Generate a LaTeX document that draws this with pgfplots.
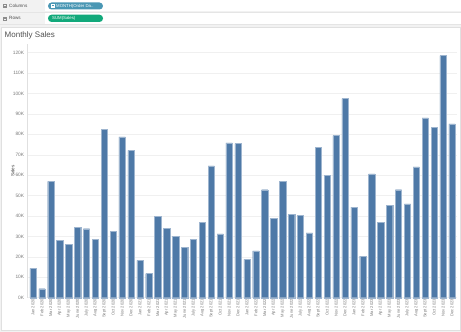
\documentclass[border=0pt]{standalone}
\usepackage{fontspec}
\setmainfont{Liberation Sans}
\usepackage{pgfplots}
\pgfplotsset{compat=1.18}
\definecolor{barblue}{HTML}{4E79A7}
\definecolor{pillblue}{HTML}{4A97B4}
\definecolor{pillgreen}{HTML}{12A97B}
\definecolor{shelfgray}{HTML}{F2F2F2}
\definecolor{labgray}{HTML}{7A7A7A}
\begin{document}
\begin{tikzpicture}[x=1pt,y=1pt]
\path[use as bounding box] (0,0) rectangle (461,332);
\fill[shelfgray] (0,0) rectangle (461,332);
% shelves
\fill[white] (45,320.5) rectangle (461,331.5);
\fill[white] (45,308) rectangle (461,319.5);
\draw[black!10,line width=0.4pt] (0,320) -- (461,320);
\draw[black!10,line width=0.4pt] (0,307.5) -- (461,307.5);
\foreach \yy/\lab in {326/Columns,313.7/Rows}{
  \draw[black!45,line width=0.3pt] (3,\yy-1.6) rectangle (6.4,\yy+1.6);
  \draw[black!45,line width=0.3pt] (3,\yy) -- (6.4,\yy);
  \node[anchor=west,inner sep=0,font=\fontsize{4.6}{5}\selectfont,text=black!70] at (9,\yy) {\lab};
}
\fill[pillblue,rounded corners=3.5pt] (48,322.5) rectangle (103,329.5);
\fill[pillgreen,rounded corners=3.5pt] (48,310) rectangle (103,317.3);
\draw[white,line width=0.3pt] (51,324.6) rectangle (54,327.4);
\draw[white,line width=0.3pt] (51,326) -- (54,326);
\node[anchor=west,inner sep=0,font=\fontsize{4.3}{5}\selectfont,text=white] at (56,326) {MONTH(Order Da..};
\node[anchor=west,inner sep=0,font=\fontsize{4.3}{5}\selectfont,text=white] at (52,313.7) {SUM(Sales)};
% panel
\fill[white] (1,2) rectangle (460,305);
\draw[black!12,line width=0.5pt] (1,2) rectangle (460,305);
\begin{axis}[
  at={(27.65pt,34.3pt)}, anchor=south west,
  scale only axis, width=429.7pt, height=253.2pt,
  xmin=-0.6, xmax=47.6, ymin=0, ymax=124000,
  ybar, bar width=6.3pt,
  scaled y ticks=false,
  axis lines*=left,
  y axis line style={black!12, line width=0.4pt},
  x axis line style={draw=none},
  major tick length=0pt,
  ylabel={Sales},
  ylabel style={font=\fontsize{4.6}{5}\selectfont, text=black!75, at={(axis description cs:0,0.5)}, anchor=south, yshift=13pt, inner sep=0pt},
  ytick={0,10000,20000,30000,40000,50000,60000,70000,80000,90000,100000,110000,120000},
  yticklabels={0K,10K,20K,30K,40K,50K,60K,70K,80K,90K,100K,110K,120K},
  yticklabel style={font=\fontsize{4.8}{5}\selectfont, text=labgray},
  ymajorgrids, grid style={black!6, line width=0.4pt},
  xtick={0,...,47},
  xticklabels={Jan 2020,Feb 2020,Mar 2020,Apr 2020,May 2020,June 2020,July 2020,Aug 2020,Sept 2020,Oct 2020,Nov 2020,Dec 2020,
    Jan 2021,Feb 2021,Mar 2021,Apr 2021,May 2021,June 2021,July 2021,Aug 2021,Sept 2021,Oct 2021,Nov 2021,Dec 2021,
    Jan 2022,Feb 2022,Mar 2022,Apr 2022,May 2022,June 2022,July 2022,Aug 2022,Sept 2022,Oct 2022,Nov 2022,Dec 2022,
    Jan 2023,Feb 2023,Mar 2023,Apr 2023,May 2023,June 2023,July 2023,Aug 2023,Sept 2023,Oct 2023,Nov 2023,Dec 2023},
  xticklabel style={rotate=90, anchor=east, font=\fontsize{4.1}{5}\selectfont, text=labgray, inner sep=1.2pt},
  clip=false,
]
\addplot[fill=barblue, draw=barblue!55!white, line width=0.35pt] coordinates {
(0,14400) (1,4400) (2,57000) (3,28100) (4,26100) (5,34500) (6,33800) (7,28600) (8,82500) (9,32400) (10,78800) (11,72100)
(12,18300) (13,11800) (14,39900) (15,34000) (16,30100) (17,24700) (18,28600) (19,36900) (20,64500) (21,31200) (22,75800) (23,75500)
(24,18800) (25,22900) (26,52900) (27,38700) (28,57000) (29,40800) (30,40200) (31,31700) (32,73500) (33,60000) (34,79400) (35,97500)
(36,44300) (37,20300) (38,60600) (39,36800) (40,45300) (41,52900) (42,45900) (43,64100) (44,88100) (45,83500) (46,118600) (47,85100)
};
\end{axis}
\node[anchor=base west,inner sep=0,font=\fontsize{8}{9.6}\selectfont,text=black!68] at (4.5,294.2) {Monthly Sales};
\end{tikzpicture}
\end{document}
